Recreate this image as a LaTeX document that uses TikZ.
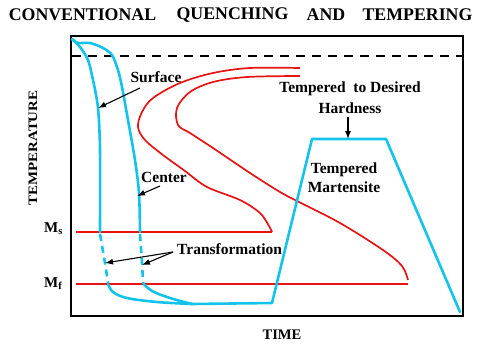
\documentclass[tikz,border=0pt]{standalone}
\usepackage{fontspec}
\setmainfont{Liberation Serif}
\usetikzlibrary{arrows.meta}
\definecolor{qcyan}{RGB}{20,195,235}
\definecolor{qred}{RGB}{232,20,20}
\tikzset{
  lbl/.style={font=\fontsize{15.5}{18.5}\selectfont\bfseries, inner sep=0pt, align=center},
  ttl/.style={font=\fontsize{17.8}{20}\selectfont\bfseries, inner sep=0pt},
  cyanline/.style={draw=qcyan, line width=2.6pt, line join=round, line cap=round},
  cyandash/.style={draw=qcyan, line width=2.6pt, dash pattern=on 7pt off 5pt},
  redline/.style={draw=qred, line width=1.7pt, line join=round},
  ptr/.style={draw=black, line width=1.1pt, -{Latex[length=8pt,width=6pt]}},
}
\begin{document}
\begin{tikzpicture}[x=1pt,y=-1pt]
\useasboundingbox (0,0) rectangle (480,360);
% title
\node[ttl] (t1) at (82.5,15) {CONVENTIONAL};
\node[ttl] (t2) at (232.5,15) {QUENCHING};
\node[ttl] (t3) at (326,15) {AND};
\node[ttl] (t4) at (417.5,15) {TEMPERING};
% frame
\draw[line width=2.4pt] (71,36) rectangle (463,316);
\draw[line width=1.5pt, dash pattern=on 9pt off 7pt] (72,56) -- (462,56);
% red lines
\draw[redline] (76,232) -- (272,232);
\draw[redline] (76,284) -- (408,284);
\draw[redline] plot[smooth, tension=0.55] coordinates {(300,68) (250,68) (213,73) (180,83) (153,98) (142,112) (138,127) (145,140) (163,155) (185,171) (207,187) (240,200) (260,213) (269,226) (272,232)};
\draw[redline] plot[smooth, tension=0.55] coordinates {(300,76) (247,77) (213,82) (190,92) (177,108) (178,125) (190,133) (213,148) (250,173) (280,192) (297,201) (340,223) (383,250) (402,266) (408,280)};
% cyan surface
\draw[cyanline] plot[smooth, tension=0.5] coordinates {(72,39) (80,47) (88,60) (93,80) (98,108) (100,150) (100,232)};
\draw[cyandash] plot[smooth] coordinates {(100,234) (105,263) (108,283)};
\draw[cyanline] plot[smooth, tension=0.6] coordinates {(108,284) (113,292) (127,298) (157,302) (192,304)};
% cyan center
\draw[cyanline] plot[smooth, tension=0.5] coordinates {(72,39) (78,43) (90,43) (103,48) (112,55) (118,70) (122,87) (128,120) (135,160) (139,193) (140,232)};
\draw[cyandash] plot[smooth] coordinates {(140,234) (142,263) (143,282)};
\draw[cyanline] plot[smooth, tension=0.6] coordinates {(143,283) (152,291) (170,298) (192,304)};
% cyan tempering cycle
\draw[cyanline] (192,304) -- (272,303) -- (312,139) -- (386,139) -- (460,312);
% labels
\node[lbl] (surf) at (156,77) {Surface};
\node[lbl] (cent) at (164,177) {Center};
\node[lbl, anchor=west] (trans) at (177,249) {Transformation};
\node[lbl] (des) at (350,89) {Tempered\ \ to Desired};
\node[lbl] (hard) at (350,108) {Hardness};
\node[lbl] (tm) at (344,177.5) {Tempered\\Martensite};
\node[font=\fontsize{14.6}{16}\selectfont\bfseries, inner sep=0pt] (time) at (282,335) {TIME};
\node[rotate=90, inner sep=0pt] (temp) at (33,148) {\resizebox{115pt}{8.5pt}{\bfseries TEMPERATURE}};
\node[font=\fontsize{15}{16}\selectfont\bfseries, inner sep=0pt, anchor=base west] (ms) at (44,232) {M\textsubscript{s}};
\node[font=\fontsize{15}{16}\selectfont\bfseries, inner sep=0pt, anchor=base west] (mf) at (44,287) {M\textsubscript{f}};
% arrow targets
\coordinate (sA) at (140,88);
\coordinate (sB) at (98,108);
\coordinate (cA) at (160,186);
\coordinate (cB) at (137,196);
\coordinate (tA) at (173,252);
\coordinate (tB) at (105,263);
\coordinate (tC) at (142,265);
\coordinate (hA) at (348,117);
\coordinate (hB) at (348,139);
\draw[ptr] (sA) -- (sB);
\draw[ptr] (cA) -- (cB);
\draw[ptr] (tA) -- (tB);
\draw[ptr] (tA) -- (tC);
\draw[ptr] (hA) -- (hB);
\end{tikzpicture}
\end{document}
